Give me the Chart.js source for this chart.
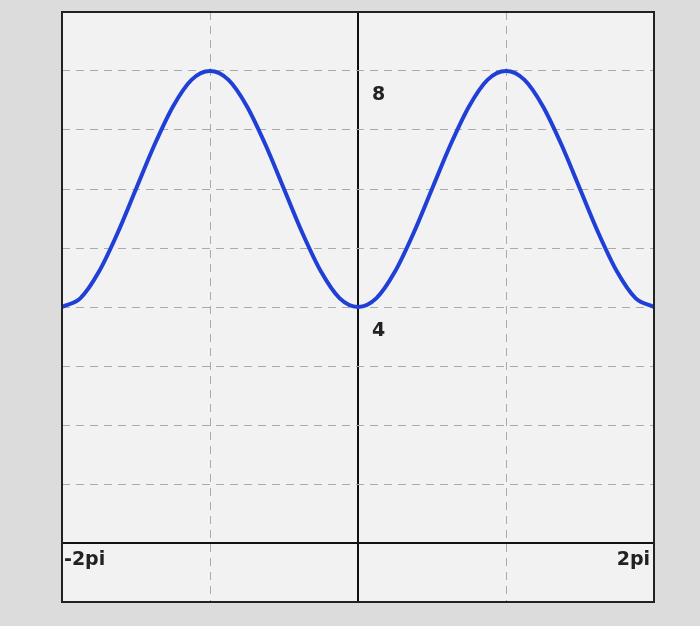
<!DOCTYPE html>
<html>
<head>
<meta charset="utf-8">
<script src="https://cdn.jsdelivr.net/npm/chart.js@4/dist/chart.umd.min.js"></script>
<style>
  body { margin: 0; background: #dcdcdc; }
  #wrap { width: 700px; height: 626px; }
</style>
</head>
<body>
<div id="wrap"><canvas id="plot" width="700" height="626"></canvas></div>
<script>
// x positions in multiples of pi/8, from -2pi to 2pi
const xSteps = [-16,-15,-14,-13,-12,-11,-10,-9,-8,-7,-6,-5,-4,-3,-2,-1,0,
                1,2,3,4,5,6,7,8,9,10,11,12,13,14,15,16];
// y values
const yValues = [4,4.15,4.6,5.25,6,6.75,7.4,7.85,8,7.85,7.4,6.75,6,5.25,4.6,4.15,4,
                 4.15,4.6,5.25,6,6.75,7.4,7.85,8,7.85,7.4,6.75,6,5.25,4.6,4.15,4];
const xTickLabels = ['-2pi', '2pi'];
const yTickLabels = ['8', '4'];

const points = xSteps.map((s, i) => ({ x: s * Math.PI / 8, y: yValues[i] }));

const frame = {
  id: 'frame',
  beforeDraw(chart) {
    const { ctx, chartArea: a } = chart;
    ctx.save();
    ctx.fillStyle = '#f2f2f2';
    ctx.fillRect(a.left, a.top, a.right - a.left, a.bottom - a.top);
    ctx.restore();
  },
  afterDraw(chart) {
    const { ctx, chartArea: a, scales } = chart;
    ctx.save();
    ctx.strokeStyle = '#222';
    ctx.lineWidth = 2;
    ctx.strokeRect(a.left, a.top, a.right - a.left, a.bottom - a.top);
    ctx.fillStyle = '#222';
    ctx.font = 'bold 19px "DejaVu Sans", sans-serif';
    const y0 = scales.y.getPixelForValue(0);
    ctx.textBaseline = 'top';
    ctx.textAlign = 'left';
    ctx.fillText(xTickLabels[0], a.left + 2, y0 + 8);
    ctx.textAlign = 'right';
    ctx.fillText(xTickLabels[1], a.right - 4, y0 + 8);
    const x0 = scales.x.getPixelForValue(0);
    ctx.textAlign = 'left';
    ctx.textBaseline = 'middle';
    ctx.fillText(yTickLabels[0], x0 + 14, scales.y.getPixelForValue(7.6));
    ctx.fillText(yTickLabels[1], x0 + 14, scales.y.getPixelForValue(3.6));
    ctx.restore();
  }
};

new Chart(document.getElementById('plot'), {
  type: 'line',
  data: {
    datasets: [{
      data: points,
      borderColor: '#1f3fd6',
      borderWidth: 4,
      pointRadius: 0,
      cubicInterpolationMode: 'monotone',
      fill: false
    }]
  },
  options: {
    responsive: false,
    animation: false,
    layout: { padding: { left: 62, right: 46, top: 12, bottom: 24 } },
    plugins: { legend: { display: false }, tooltip: { enabled: false } },
    scales: {
      x: {
        type: 'linear',
        min: -2 * Math.PI,
        max: 2 * Math.PI,
        afterBuildTicks(scale) {
          scale.ticks = [-2, -1, 0, 1, 2].map(k => ({ value: k * Math.PI }));
        },
        ticks: { display: false },
        grid: {
          color: c => c.tick && Math.abs(c.tick.value) < 1e-9 ? '#111' : '#aaa',
          lineWidth: c => c.tick && Math.abs(c.tick.value) < 1e-9 ? 2 : 1,
          drawTicks: false
        },
        border: { display: false, dash: c => c.tick && Math.abs(c.tick.value) < 1e-9 ? [] : [8, 6] }
      },
      y: {
        min: -1,
        max: 9,
        ticks: { display: false, stepSize: 1 },
        grid: {
          color: c => c.tick && c.tick.value === 0 ? '#111' : (c.tick.value > 0 && c.tick.value < 9 ? '#aaa' : 'rgba(0,0,0,0)'),
          lineWidth: c => c.tick && c.tick.value === 0 ? 2 : 1,
          drawTicks: false
        },
        border: { display: false, dash: c => c.tick && c.tick.value === 0 ? [] : [8, 6] }
      }
    }
  },
  plugins: [frame]
});
</script>
</body>
</html>
